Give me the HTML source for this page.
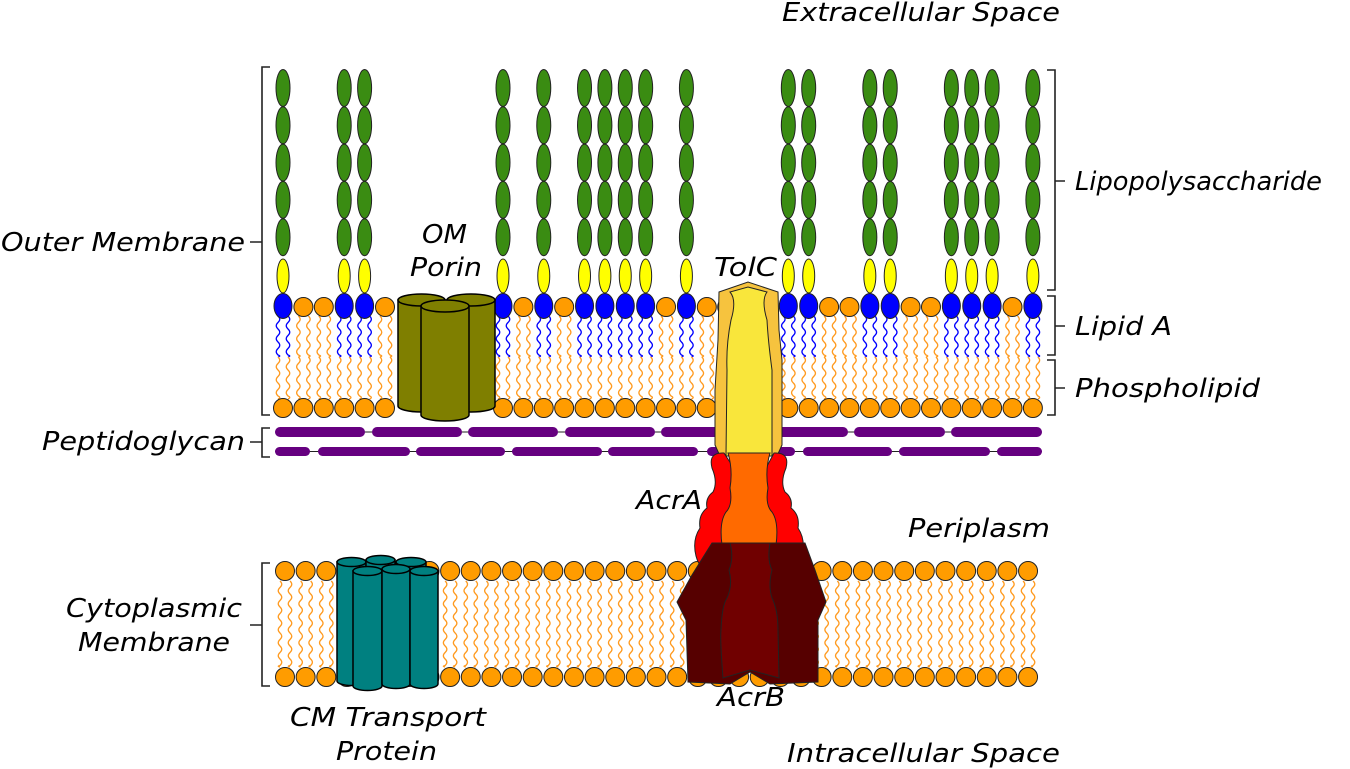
<!DOCTYPE html>
<html><head><meta charset="utf-8"><style>
html,body{margin:0;padding:0;background:#fff;}
svg{display:block;}
text{font-family:"DejaVu Sans","Liberation Sans",sans-serif;font-style:italic;font-size:26px;fill:#000;}
</style></head><body>
<svg id="s" width="1350" height="769" viewBox="0 0 1350 769" xmlns="http://www.w3.org/2000/svg">
<g id="tails"></g>
<g id="heads"></g>
<g id="pg"></g>
<g id="prot" stroke="#000" stroke-width="1.5">
 <path d="M398 300 v106 a23.5 6 0 0 0 47 0 v-106z" fill="#7f7f00"/>
 <ellipse cx="421.5" cy="300" rx="23.5" ry="6" fill="#7f7f00"/>
 <path d="M447 300 v106 a24 6 0 0 0 48 0 v-106z" fill="#7f7f00"/>
 <ellipse cx="471" cy="300" rx="24" ry="6" fill="#7f7f00"/>
 <path d="M421 306 v109 a24 6 0 0 0 48 0 v-109z" fill="#7f7f00"/>
 <ellipse cx="445" cy="306" rx="24" ry="6" fill="#7f7f00"/>
 <path d="M337 562 v119 a14.5 4.5 0 0 0 29 0 v-119z" fill="#008080"/>
 <ellipse cx="351.5" cy="562" rx="14.5" ry="4.5" fill="#008080"/>
 <path d="M366 560 v10 h29 v-10z" fill="#008080"/>
 <ellipse cx="380.5" cy="560" rx="14.5" ry="4.5" fill="#008080"/>
 <path d="M396 562 v10 h30 v-10z" fill="#008080"/>
 <ellipse cx="411" cy="562" rx="15" ry="4.5" fill="#008080"/>
 <path d="M353 571 v115 a14.5 4.5 0 0 0 29 0 v-115z" fill="#008080"/>
 <ellipse cx="367.5" cy="571" rx="14.5" ry="4.5" fill="#008080"/>
 <path d="M382 569 v115 a14 4.5 0 0 0 28 0 v-115z" fill="#008080"/>
 <ellipse cx="396" cy="569" rx="14" ry="4.5" fill="#008080"/>
 <path d="M410 571 v113 a14 4.5 0 0 0 28 0 v-113z" fill="#008080"/>
 <ellipse cx="424" cy="571" rx="14" ry="4.5" fill="#008080"/>
</g>
<g id="pump" stroke="#222" stroke-width="1">
 <!-- TolC -->
 <path d="M719 292 L748 282 L778 292 L779 330 L782 360 L782 445 L777 456 L720 456 L715 445 L715 390 L718 340 Z" fill="#f6c33e"/>
 <path d="M730 292 Q737 300 731 320 Q726 345 727 370 L726 456 L772 456 L772 370 Q768 340 767 320 Q761 300 767 292 L748 287 Z" fill="#f9e63b"/>
 <!-- AcrA red -->
 <path d="M724 453 Q708 452 712 468 Q718 482 713 492 Q705 498 707 508 Q698 515 700 528 Q692 540 696 556 Q700 572 716 572 L745 545 L735 470 Z" fill="#ff0000"/>
 <path d="M774 453 Q790 452 786 468 Q780 482 785 492 Q793 498 791 508 Q800 515 798 528 Q806 540 802 556 Q798 572 782 572 L755 545 L765 470 Z" fill="#ff0000"/>
 <path d="M728 453 L770 453 Q765 470 768 488 Q765 505 772 512 Q779 522 776 545 L722 545 Q719 522 726 512 Q733 505 730 488 Q733 470 728 453Z" fill="#ff6a00"/>
 <!-- AcrB -->
 <path d="M712 543 L805 543 L815 570 L826 602 L818 620 L818 682 L770 684 L750 672 L730 684 L688 682 L686 620 L677 602 L692 575 Z" fill="#560000"/>
 <path d="M730 543 L770 543 Q767 560 772 570 Q768 585 772 598 Q778 610 778 630 L779 678 L750 670 L723 678 Q720 640 721 630 Q722 605 727 598 Q733 585 729 570 Q734 558 730 543Z" fill="#700000"/>
</g>
<g id="lines" stroke="#222" stroke-width="1.6" fill="none">
 <path d="M270 67 H262 V415 H270 M262 242 H250"/>
 <path d="M270 428 H262 V457 H270 M262 442 H250"/>
 <path d="M270 563 H262 V686 H270 M262 625 H250"/>
 <path d="M1047 70 H1055 V290 H1047 M1055 181 H1065"/>
 <path d="M1047 296 H1055 V355 H1047 M1055 326 H1065"/>
 <path d="M1047 360 H1055 V415 H1047 M1055 388 H1065"/>
</g>
<g lengthAdjust="spacingAndGlyphs">
<text x="782" y="21" textLength="278" lengthAdjust="spacingAndGlyphs">Extracellular Space</text>
<text x="787" y="762" textLength="273" lengthAdjust="spacingAndGlyphs">Intracellular Space</text>
<text x="1" y="251" textLength="244" lengthAdjust="spacingAndGlyphs">Outer Membrane</text>
<text x="42" y="450" textLength="203" lengthAdjust="spacingAndGlyphs">Peptidoglycan</text>
<text x="66" y="617" textLength="176" lengthAdjust="spacingAndGlyphs">Cytoplasmic</text>
<text x="78" y="651" textLength="152" lengthAdjust="spacingAndGlyphs">Membrane</text>
<text x="1075" y="190" textLength="247" lengthAdjust="spacingAndGlyphs">Lipopolysaccharide</text>
<text x="1075" y="335" textLength="97" lengthAdjust="spacingAndGlyphs">Lipid A</text>
<text x="1075" y="397" textLength="185" lengthAdjust="spacingAndGlyphs">Phospholipid</text>
<text x="422" y="243" textLength="45" lengthAdjust="spacingAndGlyphs">OM</text>
<text x="410" y="276" textLength="72" lengthAdjust="spacingAndGlyphs">Porin</text>
<text x="714" y="276" textLength="63" lengthAdjust="spacingAndGlyphs">TolC</text>
<text x="636" y="509" textLength="66" lengthAdjust="spacingAndGlyphs">AcrA</text>
<text x="908" y="537" textLength="142" lengthAdjust="spacingAndGlyphs">Periplasm</text>
<text x="717" y="706" textLength="68" lengthAdjust="spacingAndGlyphs">AcrB</text>
<text x="290" y="726" textLength="196" lengthAdjust="spacingAndGlyphs">CM Transport</text>
<text x="336" y="760" textLength="101" lengthAdjust="spacingAndGlyphs">Protein</text>
</g>
</svg>
<script>
var NS="http://www.w3.org/2000/svg";
function el(p,t,a){var e=document.createElementNS(NS,t);for(var k in a)e.setAttribute(k,a[k]);p.appendChild(e);return e;}
var tails=document.getElementById('tails'),heads=document.getElementById('heads'),pg=document.getElementById('pg');
function wave(x,y1,y2,col){var d="M"+x+" "+y1,y=y1,s=1;while(y<y2){var ny=Math.min(y+6.5,y2);d+=" Q"+(x+3.5*s)+" "+((y+ny)/2)+" "+x+" "+ny;y=ny;s=-s;}
 el(tails,'path',{d:d,stroke:col,'stroke-width':1.3,fill:'none'});}
var om=[];for(var i=0;i<6;i++)om.push(283+i*20.4);
for(var i=0;i<27;i++)om.push(503+i*20.38);
var lps=[283,344,364,503,544,585,605,625,646,687,789,809,870,890,951,971,992,1033];
function isL(x){for(var j=0;j<lps.length;j++)if(Math.abs(lps[j]-x)<6)return true;return false;}
om.forEach(function(x){
 var L=isL(x);
 [x-5,x+5].forEach(function(tx){wave(tx,316,357,L?'#0000ff':'#ff9a1f');wave(tx,357,399,'#ff9a1f');});
 el(heads,'circle',{cx:x,cy:408,r:9.5,fill:'#ff9c00',stroke:'#222','stroke-width':1});
 if(L){
  el(heads,'ellipse',{cx:x,cy:306,rx:9,ry:12.5,fill:'#0000ff',stroke:'#222','stroke-width':1});
  el(heads,'ellipse',{cx:x,cy:276,rx:6,ry:17,fill:'#ffff00',stroke:'#222','stroke-width':1});
  for(var k=0;k<5;k++)el(heads,'ellipse',{cx:x,cy:88+k*37.3,rx:7,ry:18.5,fill:'#3a8c12',stroke:'#222','stroke-width':1});
 } else el(heads,'circle',{cx:x,cy:307,r:9.5,fill:'#ff9c00',stroke:'#222','stroke-width':1});
});
for(var i=0;i<37;i++){var x=285+i*20.64;
 [x-5,x+5].forEach(function(tx){wave(tx,581,667,'#ff9a1f');});
 el(heads,'circle',{cx:x,cy:571,r:9.5,fill:'#ff9c00',stroke:'#222','stroke-width':1});
 el(heads,'circle',{cx:x,cy:677,r:9.5,fill:'#ff9c00',stroke:'#222','stroke-width':1});
}
function bars(y,h,segs){
 el(pg,'line',{x1:275,y1:y+h/2,x2:1042,y2:y+h/2,stroke:'#222','stroke-width':1});
 segs.forEach(function(s){el(pg,'rect',{x:s[0],y:y,width:s[1]-s[0],height:h,rx:h/2,fill:'#660080'});});}
bars(427,10,[[275,365],[372,462],[468,558],[565,655],[661,751],[758,848],[854,945],[951,1042]]);
bars(447,9,[[275,310],[318,410],[416,505],[512,602],[608,698],[707,795],[803,892],[899,990],[997,1042]]);
</script>
</body></html>
